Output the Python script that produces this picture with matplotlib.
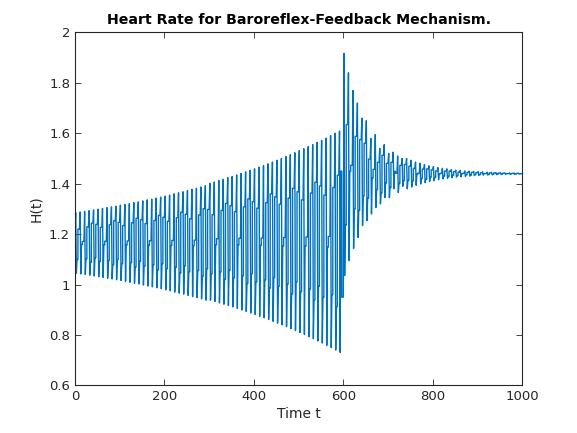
import numpy as np
import matplotlib
matplotlib.use("Agg")
import matplotlib.pyplot as plt

# one entry per oscillation cycle (period ~10 time units)
cycle_period = 10.0

peaks = [
    1.285, 1.288, 1.290, 1.293, 1.296, 1.299, 1.302, 1.305, 1.308, 1.311,
    1.315, 1.318, 1.321, 1.325, 1.328, 1.332, 1.336, 1.339, 1.343, 1.347,
    1.351, 1.355, 1.360, 1.364, 1.368, 1.373, 1.378, 1.382, 1.387, 1.392,
    1.402, 1.407, 1.413, 1.418, 1.424, 1.429, 1.435, 1.441, 1.447, 1.453,
    1.459, 1.466, 1.472, 1.479, 1.486, 1.493, 1.500, 1.508, 1.515, 1.523,
    1.531, 1.539, 1.547, 1.555, 1.564, 1.572, 1.581, 1.591, 1.600, 1.609,
    1.917, 1.840, 1.770, 1.720, 1.660, 1.650, 1.580, 1.595, 1.540, 1.555,
    1.520, 1.525, 1.510, 1.500, 1.500, 1.493, 1.486, 1.481, 1.476, 1.471,
    1.468, 1.464, 1.461, 1.459, 1.456, 1.454, 1.453, 1.451, 1.450, 1.449,
    1.448, 1.447, 1.446, 1.445, 1.444, 1.444, 1.443, 1.443, 1.443, 1.442,
]

troughs = [
    1.045, 1.042, 1.040, 1.037, 1.034, 1.031, 1.028, 1.025, 1.022, 1.019,
    1.016, 1.012, 1.009, 1.005, 1.002, 0.998, 0.994, 0.991, 0.987, 0.983,
    0.979, 0.975, 0.970, 0.966, 0.962, 0.957, 0.952, 0.948, 0.943, 0.938,
    0.938, 0.933, 0.927, 0.922, 0.917, 0.911, 0.905, 0.899, 0.893, 0.887,
    0.881, 0.874, 0.868, 0.861, 0.854, 0.847, 0.840, 0.833, 0.825, 0.817,
    0.810, 0.802, 0.793, 0.785, 0.776, 0.768, 0.759, 0.750, 0.740, 0.731,
    1.036, 1.095, 1.143, 1.187, 1.234, 1.254, 1.280, 1.306, 1.320, 1.345,
    1.345, 1.380, 1.365, 1.390, 1.380, 1.387, 1.394, 1.399, 1.404, 1.409,
    1.412, 1.416, 1.419, 1.421, 1.424, 1.426, 1.427, 1.429, 1.430, 1.432,
    1.433, 1.434, 1.434, 1.435, 1.436, 1.436, 1.437, 1.437, 1.437, 1.438,
]

# level held just before each peak
mids_before = [
    1.231, 1.220, 1.171, 1.229, 1.244, 1.239, 1.227, 1.172, 1.237, 1.253,
    1.247, 1.234, 1.173, 1.245, 1.263, 1.257, 1.242, 1.174, 1.254, 1.274,
    1.267, 1.251, 1.175, 1.265, 1.287, 1.279, 1.261, 1.176, 1.276, 1.301,
    1.298, 1.277, 1.182, 1.294, 1.322, 1.313, 1.289, 1.184, 1.308, 1.340,
    1.329, 1.303, 1.185, 1.325, 1.360, 1.348, 1.319, 1.187, 1.343, 1.382,
    1.368, 1.336, 1.189, 1.363, 1.406, 1.391, 1.355, 1.191, 1.385, 1.434,
    0.950, 1.635, 1.473, 1.588, 1.575, 1.561, 1.498, 1.457, 1.485, 1.513,
    1.481, 1.485, 1.442, 1.473, 1.476, 1.469, 1.461, 1.442, 1.458, 1.459,
    1.455, 1.451, 1.441, 1.450, 1.450, 1.448, 1.446, 1.441, 1.445, 1.445,
    1.444, 1.443, 1.440, 1.443, 1.443, 1.442, 1.442, 1.440, 1.441, 1.441,
    1.440,
]

# level held just after each trough
mids_after = [
    1.099, 1.159, 1.102, 1.088, 1.106, 1.091, 1.158, 1.095, 1.079, 1.099,
    1.083, 1.157, 1.087, 1.069, 1.092, 1.073, 1.156, 1.078, 1.058, 1.083,
    1.063, 1.155, 1.068, 1.046, 1.073, 1.051, 1.154, 1.056, 1.032, 1.063,
    1.042, 1.158, 1.049, 1.021, 1.056, 1.027, 1.157, 1.035, 1.004, 1.043,
    1.011, 1.155, 1.019, 0.985, 1.028, 0.992, 1.153, 1.001, 0.963, 1.011,
    0.972, 1.152, 0.982, 0.939, 0.993, 0.949, 1.149, 0.960, 0.912, 1.450,
    1.235, 1.449, 1.300, 1.294, 1.351, 1.343, 1.422, 1.377, 1.364, 1.403,
    1.385, 1.449, 1.401, 1.412, 1.413, 1.411, 1.438, 1.420, 1.418, 1.426,
    1.425, 1.439, 1.430, 1.429, 1.433, 1.432, 1.439, 1.435, 1.434, 1.436,
    1.436, 1.440, 1.437, 1.437, 1.438, 1.438, 1.440, 1.439, 1.438, 1.439,
]

# build the time series: hold, swing up to peak, down to trough, hold, jump
t, h = [], []
for k in range(len(peaks)):
    t0 = k * cycle_period
    t += [t0 - 3.5, t0, t0 + 1.5, t0 + 3.0, t0 + 4.5, t0 + 6.5]
    h += [mids_before[k], mids_before[k], peaks[k], troughs[k],
          mids_after[k], mids_after[k]]
k_last = len(peaks)
t += [k_last * cycle_period - 3.5, k_last * cycle_period + 5.0]
h += [mids_before[k_last], mids_before[k_last]]

fig = plt.figure(figsize=(5.77, 4.33), dpi=100)
ax = fig.add_axes([0.13, 0.11, 0.775, 0.815])

ax.plot(t, h, color="#0072BD", linewidth=1.0)

ax.set_xlim(0, 1000)
ax.set_ylim(0.6, 2.0)
ax.set_xticks([0, 200, 400, 600, 800, 1000])
ax.set_yticks([0.6, 0.8, 1.0, 1.2, 1.4, 1.6, 1.8, 2.0])
ax.set_yticklabels(["0.6", "0.8", "1", "1.2", "1.4", "1.6", "1.8", "2"])

ax.tick_params(direction="in", length=4, width=0.6, labelsize=9.5,
               colors="#262626", top=True, right=True)
for s in ax.spines.values():
    s.set_linewidth(0.8)
    s.set_color("#262626")

ax.set_xlabel("Time t", fontsize=10, color="#262626", labelpad=3)
ax.set_ylabel("H(t)", fontsize=10, color="#262626", labelpad=4)
ax.set_title("Heart Rate for Baroreflex-Feedback Mechanism.", fontsize=10.2,
             fontweight="bold", pad=6)

fig.savefig("out.png", dpi=100)
